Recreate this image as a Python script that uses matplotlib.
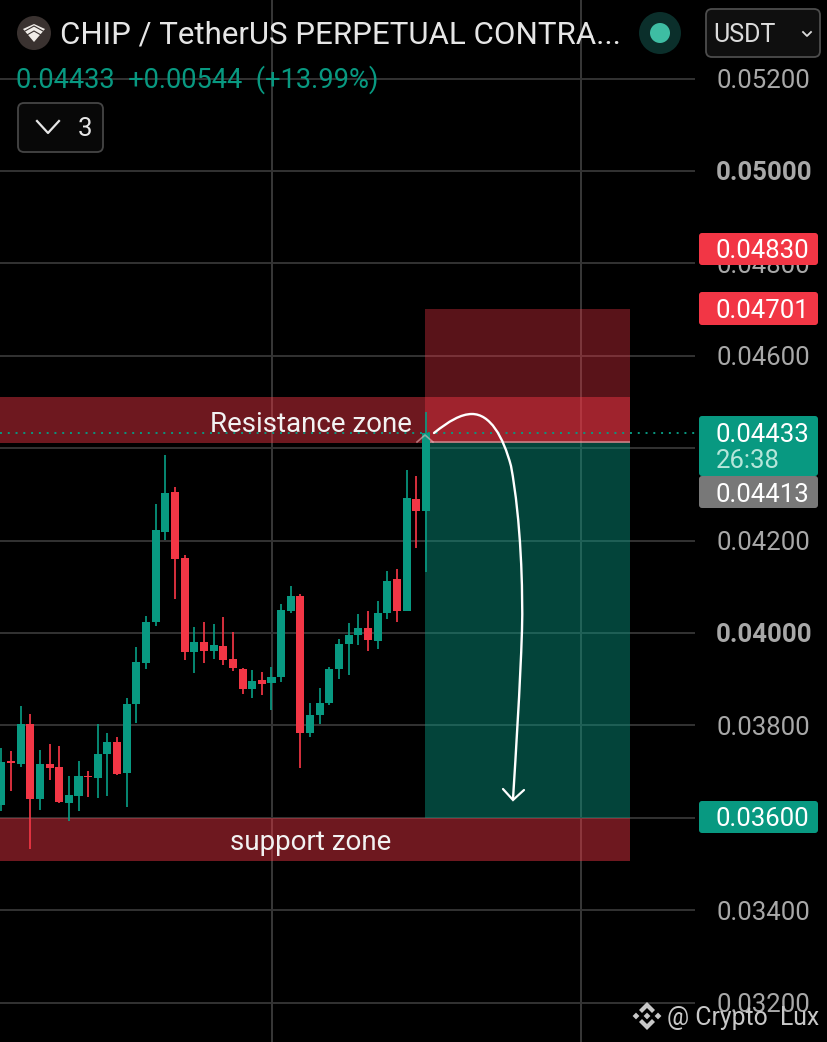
import matplotlib
matplotlib.use("Agg")
import matplotlib.pyplot as plt
from matplotlib.patches import FancyBboxPatch, Circle, Polygon, PathPatch, Rectangle
from matplotlib.path import Path

plt.rcParams['font.family'] = ['Roboto', 'DejaVu Sans']

candle_open = [0.03627,0.03722,0.03716,0.03803,0.03641,0.03716,0.03710,0.03632,0.03648,0.03690,0.03687,0.03738,0.03765,0.03696,0.03847,
               0.03935,0.04023,0.04219,0.04305,0.04162,0.03958,0.03980,0.03962,0.03971,0.03944,0.03923,0.03879,0.03898,0.03891,0.03905,
               0.04048,0.04080,0.03784,0.03822,0.03849,0.03922,0.03976,0.03996,0.04011,0.03983,0.04044,0.04116,0.04047,0.04291,0.04263]
candle_close = [0.03721,0.03719,0.03804,0.03641,0.03716,0.03707,0.03634,0.03649,0.03690,0.03688,0.03739,0.03764,0.03695,0.03847,0.03937,
                0.04024,0.04223,0.04304,0.04160,0.03958,0.03981,0.03960,0.03974,0.03942,0.03924,0.03879,0.03896,0.03890,0.03905,0.04049,
                0.04081,0.03784,0.03822,0.03849,0.03923,0.03976,0.03996,0.04011,0.03984,0.04043,0.04113,0.04048,0.04293,0.04264,0.04433]
candle_high = [0.03750,0.03745,0.03842,0.03825,0.03746,0.03760,0.03755,0.03690,0.03724,0.03701,0.03802,0.03783,0.03775,0.03860,0.03969,
               0.04037,0.04279,0.04385,0.04317,0.04168,0.04012,0.04024,0.04020,0.04035,0.04002,0.03925,0.03920,0.03915,0.03927,0.04063,
               0.04102,0.04085,0.03848,0.03882,0.03927,0.03988,0.04022,0.04041,0.04047,0.04070,0.04134,0.04139,0.04353,0.04340,0.04478]
candle_low = [0.03615,0.03658,0.03711,0.03532,0.03617,0.03682,0.03632,0.03594,0.03615,0.03645,0.03642,0.03648,0.03693,0.03623,0.03806,
              0.03921,0.04015,0.04201,0.04074,0.03942,0.03914,0.03934,0.03944,0.03930,0.03918,0.03869,0.03860,0.03866,0.03833,0.03894,
              0.04043,0.03708,0.03774,0.03803,0.03845,0.03900,0.03909,0.03973,0.03960,0.03966,0.04031,0.04023,0.04047,0.04185,0.04133]

price_ticks = [0.032, 0.034, 0.036, 0.038, 0.040, 0.042, 0.044, 0.046, 0.048, 0.050, 0.052]
bold_ticks = [0.040, 0.050]
grid_bars = [28.07, 60.09]

last_price = 0.04433
entry_price = 0.04413
stop_price = 0.04701
target_price = 0.03600
resistance_zone = (0.04411, 0.04511)
support_zone = (0.03506, 0.03600)
position_start, zone_end, grid_end = 43.9, 65.15, 71.9

GREEN, RED = '#089981', '#f23645'
GRID = '#333333'
LABEL_SIZE = 18.5

fig = plt.figure(figsize=(8.28, 10.42), dpi=100, facecolor='black')
ax = fig.add_axes([0, 0, 1, 1], facecolor='black')
ax.set_xlim(-0.135, 85.67)
ax.set_ylim(0.031147, 0.053701)
for s in ax.spines.values():
    s.set_visible(False)

# price axis (labels drawn inside the axes on the right)
ax.yaxis.tick_right()
ax.set_yticks(price_ticks)
ax.set_yticklabels([f'{p:.5f}' for p in price_ticks])
ax.tick_params(axis='y', length=0, pad=-80.6, labelsize=LABEL_SIZE, labelcolor='#a8a8a8')
for lab, p in zip(ax.get_yticklabels(), price_ticks):
    lab.set_horizontalalignment('left')
    if p in bold_ticks:
        lab.set_fontweight('bold')

ax.set_xticks(grid_bars)
ax.set_xticklabels([])
ax.tick_params(axis='x', length=0)
ax.grid(axis='x', color='#3c3c3c', lw=1.3, zorder=0)
ax.set_axisbelow(True)
ax.hlines(price_ticks, -0.135, grid_end, color=GRID, lw=1.4, zorder=1)

# zones and position tool
ax.add_patch(Rectangle((position_start, entry_price), zone_end-position_start, stop_price-entry_price,
                       fc=RED, alpha=0.37, lw=0, zorder=2))
ax.add_patch(Rectangle((position_start, target_price), zone_end-position_start, entry_price-target_price,
                       fc=GREEN, alpha=0.45, lw=0, zorder=2))
ax.add_patch(Rectangle((-0.135, resistance_zone[0]), zone_end+0.135, resistance_zone[1]-resistance_zone[0],
                       fc=RED, alpha=0.46, lw=0, zorder=2.2))
ax.add_patch(Rectangle((-0.135, support_zone[0]), zone_end+0.135, support_zone[1]-support_zone[0],
                       fc=RED, alpha=0.46, lw=0, zorder=2.2))
ax.hlines(entry_price, position_start, zone_end, color='#e9b8bc', alpha=0.55, lw=1.3, zorder=2.4)

# candles
for i, (o, c, h, l) in enumerate(zip(candle_open, candle_close, candle_high, candle_low)):
    col = GREEN if c >= o else RED
    ax.vlines(i, l, h, color=col, lw=1.25, zorder=3)
    ax.bar(i, abs(c-o), bottom=min(o, c), width=0.83, color=col, lw=0, zorder=3.1)

ax.hlines(last_price, -0.135, grid_end, color=GREEN, lw=1.4, linestyles=(0, (1, 3)), zorder=3.5)

ax.text(32.1, sum(resistance_zone)/2-0.00009, 'Resistance zone', color='#f2f2f2', fontsize=20,
        ha='center', va='center', zorder=6)
ax.text(32.1, sum(support_zone)/2-0.00006, 'support zone', color='#f2f2f2', fontsize=20,
        ha='center', va='center', zorder=6)

# overlay in picture coordinates: interface furniture and the hand-drawn arrow
ui = fig.add_axes([0, 0, 1, 1], facecolor='none')
ui.set_xlim(0, 828)
ui.set_ylim(1042, 0)
ui.axis('off')

# hand-drawn arrow
verts = [(434, 433), (449, 421), (461, 414), (472, 414),
         (490, 414), (503, 436), (511, 466),
         (521, 520), (523, 590), (522, 630),
         (520, 690), (516, 750), (513, 799)]
codes = [Path.MOVETO] + [Path.CURVE4]*12
ui.add_patch(PathPatch(Path(verts, codes), fc='none', ec='white', lw=1.7, capstyle='round', zorder=5))
ui.plot([503, 513, 524], [789, 800, 790], color='white', lw=1.6, solid_capstyle='round', solid_joinstyle='miter')
ui.plot([417, 425, 433], [442, 435, 442], color='#e9b8bc', alpha=0.6, lw=1.2)

def badge(x0, y0, x1, y1, col, r=3):
    ui.add_patch(FancyBboxPatch((x0, y0), x1-x0, y1-y0, boxstyle=f'round,pad=0,rounding_size={r}',
                                fc=col, ec='none', zorder=6))

def blabel(y, s, col='white', size=LABEL_SIZE):
    ui.text(716, y, s, color=col, fontsize=size, ha='left', va='center_baseline', zorder=7)

badge(699, 233, 818, 265, RED); blabel(249, f'{0.04830:.5f}')
badge(699, 292, 818, 325, RED); blabel(308.5, f'{stop_price:.5f}')
badge(699, 416, 818, 476, GREEN); blabel(432, f'{last_price:.5f}'); blabel(459, '26:38', '#b5e6da')
badge(699, 476, 818, 508, '#787878'); blabel(492, f'{entry_price:.5f}')
badge(699, 801, 818, 833, GREEN); blabel(816.5, f'{target_price:.5f}')

# header
ui.add_patch(Circle((34, 33), 17, fc='#3a3230', ec='none'))
ui.add_patch(Polygon([(34, 24), (45, 29), (34, 42), (23, 29)], fc='#f0ece8', ec='none'))
ui.plot([25, 34, 43], [31, 26, 31], color='#3a3230', lw=0.8)
ui.plot([27, 34, 41], [35, 31, 35], color='#3a3230', lw=0.8)
ui.text(60, 32, 'CHIP / TetherUS PERPETUAL CONTRA...', color='#e6e6e6', fontsize=22.5, ha='left', va='center_baseline')
ui.text(16, 76, '0.04433  +0.00544  (+13.99%)', color=GREEN, fontsize=19.6, ha='left', va='center_baseline')

ui.add_patch(Circle((660, 33), 21, fc='#0b2f2b', ec='none'))
ui.add_patch(Circle((660, 33), 10, fc='#3ebda3', ec='none'))

ui.add_patch(FancyBboxPatch((706, 9), 114, 48, boxstyle='round,pad=0,rounding_size=6', fc='#0f0f0f', ec='#4d4d4d', lw=1.3))
ui.text(713, 33, 'USDT', color='#dcdcdc', fontsize=18, ha='left', va='center_baseline')
ui.plot([803, 807, 811], [32, 36, 32], color='#dcdcdc', lw=1.3)

ui.add_patch(FancyBboxPatch((18, 103), 85, 49, boxstyle='round,pad=0,rounding_size=6', fc='#080808', ec='#454545', lw=1.3))
ui.plot([37, 48, 59], [121, 133, 121], color='#e6e6e6', lw=1.6)
ui.text(85, 127, '3', color='#e6e6e6', fontsize=18.5, ha='center', va='center_baseline')

# watermark
wm = '#c8c8c8'
cx, cy = 647, 1016
ui.add_patch(Polygon([(cx, cy-14), (cx+8, cy-6), (cx+5, cy-3), (cx, cy-8), (cx-5, cy-3), (cx-8, cy-6)], fc=wm, ec='none', zorder=8))
ui.add_patch(Polygon([(cx, cy+14), (cx+8, cy+6), (cx+5, cy+3), (cx, cy+8), (cx-5, cy+3), (cx-8, cy+6)], fc=wm, ec='none', zorder=8))
for dx in (-11, 0, 11):
    r = 3.4
    ui.add_patch(Polygon([(cx+dx, cy-r), (cx+dx+r, cy), (cx+dx, cy+r), (cx+dx-r, cy)], fc=wm, ec='none', zorder=8))
ui.text(667, 1016, '@ Crypto  Lux', color=wm, fontsize=17.8, ha='left', va='center_baseline', zorder=8)

fig.savefig('out.png', dpi=100, facecolor='black')
